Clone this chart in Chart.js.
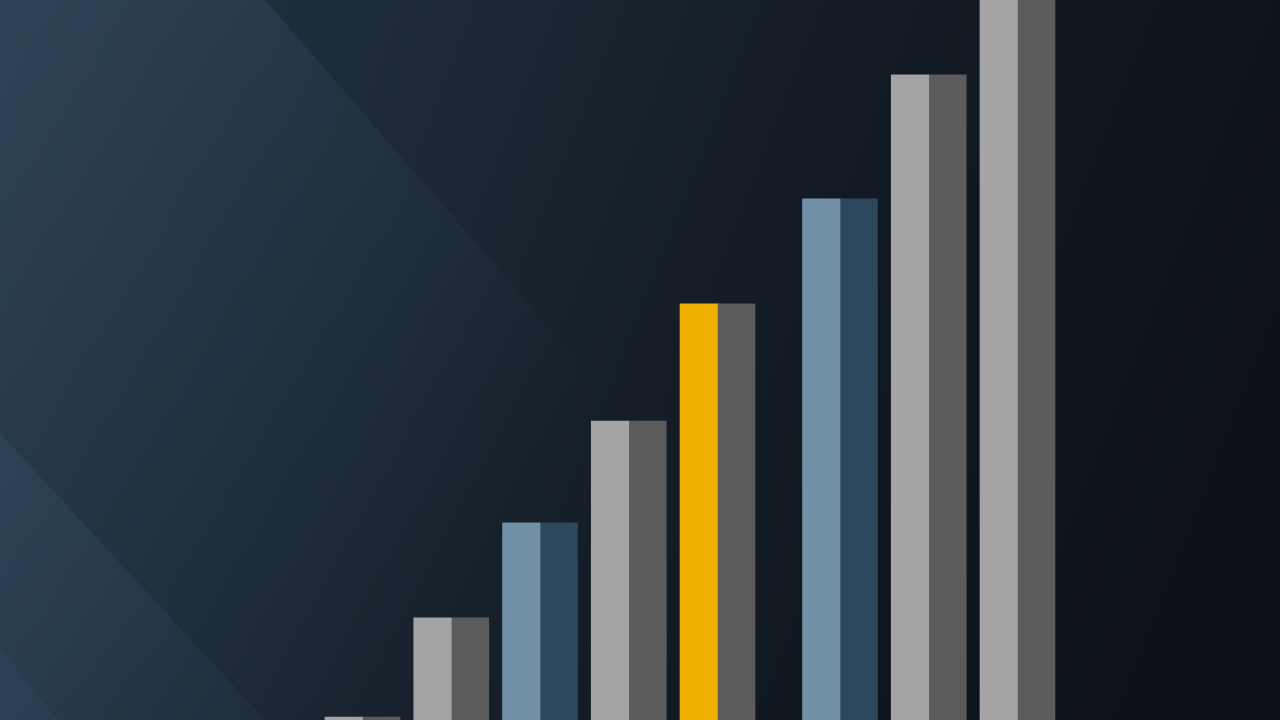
<!DOCTYPE html>
<html>
<head>
<meta charset="utf-8">
<title>Barras</title>
<script src="https://cdn.jsdelivr.net/npm/chart.js@4.4.1/dist/chart.umd.min.js"></script>
<style>
    html, body {
        margin: 0;
        padding: 0;
        background: #0b1016;
        overflow: hidden;
    }

    #contenido {
        position: relative;
        width: 1280px;
        height: 720px;
    }
</style>
</head>
<body>
<div id="contenido">
    <canvas id="diagramaBarras"></canvas>
</div>
<script>
// posiciones de cada barra (en huecos) y su altura (0 - 100)
var posiciones = [0, 1, 2, 3, 4, 5.38, 6.38, 7.38];
var alturas = [0.4, 14.2, 27.4, 41.5, 57.8, 72.4, 89.6, 105];

// cara iluminada y cara en sombra de cada barra
var coloresCara = ['#a4a4a4', '#a4a4a4', '#7190a6', '#a4a4a4', '#efb000', '#7190a6', '#a4a4a4', '#a4a4a4'];
var coloresSombra = ['#5b5b5b', '#5b5b5b', '#2d475d', '#5b5b5b', '#5b5b5b', '#2d475d', '#5b5b5b', '#5b5b5b'];

var ejeX = { min: -4.085, max: 10.338 };
var ejeY = { min: 0, max: 100 };

window.onload = function () {
    dibujarDiagrama();
}

/**
 * Fondo oscuro con los reflejos en diagonal, se pinta antes que las barras
 */
var pluginFondo = {
    id: 'fondo',
    beforeDraw: function (chart) {
        let ctx = chart.ctx;
        let w = chart.width;
        let h = chart.height;

        ctx.save();
        // degradado base, mas claro arriba a la izquierda
        let base = ctx.createLinearGradient(0, 0, w, h * 0.7);
        base.addColorStop(0, '#243445');
        base.addColorStop(0.35, '#1b2733');
        base.addColorStop(0.62, '#121a23');
        base.addColorStop(1, '#0b1016');
        ctx.fillStyle = base;
        ctx.fillRect(0, 0, w, h);

        // reflejo grande de arriba a la izquierda
        let reflejo = ctx.createLinearGradient(0, 0, w * 0.45, h * 0.62);
        reflejo.addColorStop(0, 'rgba(64, 88, 110, 0.42)');
        reflejo.addColorStop(0.6, 'rgba(54, 76, 96, 0.2)');
        reflejo.addColorStop(1, 'rgba(40, 60, 80, 0)');
        ctx.fillStyle = reflejo;
        ctx.beginPath();
        ctx.moveTo(0, 0);
        ctx.lineTo(w * 0.207, 0);
        ctx.lineTo(w * 0.5, h * 0.6);
        ctx.lineTo(w * 0.5, h);
        ctx.lineTo(0, h);
        ctx.closePath();
        ctx.fill();

        // reflejo de la esquina de abajo a la izquierda
        let esquina = ctx.createLinearGradient(0, h * 0.6, w * 0.2, h);
        esquina.addColorStop(0, 'rgba(60, 86, 110, 0.33)');
        esquina.addColorStop(1, 'rgba(60, 86, 110, 0.12)');
        ctx.fillStyle = esquina;
        ctx.beginPath();
        ctx.moveTo(0, h * 0.602);
        ctx.lineTo(w * 0.207, h);
        ctx.lineTo(0, h);
        ctx.closePath();
        ctx.fill();

        // un poco mas de luz en la punta de la esquina
        ctx.fillStyle = 'rgba(70, 100, 130, 0.12)';
        ctx.beginPath();
        ctx.moveTo(0, h * 0.9);
        ctx.lineTo(w * 0.045, h);
        ctx.lineTo(0, h);
        ctx.closePath();
        ctx.fill();
        ctx.restore();
    }
};

function dibujarDiagrama() {
    let canvas = document.getElementById('diagramaBarras');

    let cara = [];
    let sombra = [];
    for (let i = 0; i < posiciones.length; i++) {
        cara.push({ x: posiciones[i], y: alturas[i] });
        sombra.push({ x: posiciones[i], y: alturas[i] });
    }

    let diagrama = new Chart(canvas, {
        type: 'bar',
        data: {
            datasets: [{
                label: 'cara',
                data: cara,
                backgroundColor: coloresCara,
                borderWidth: 0,
                barThickness: 37.5
            }, {
                label: 'sombra',
                data: sombra,
                backgroundColor: coloresSombra,
                borderWidth: 0,
                barThickness: 37.5
            }]
        },
        options: {
            responsive: true,
            maintainAspectRatio: false,
            animation: false,
            layout: { padding: 0 },
            plugins: {
                legend: { display: false },
                tooltip: { enabled: false }
            },
            scales: {
                x: {
                    type: 'linear',
                    display: false,
                    offset: false,
                    min: ejeX.min,
                    max: ejeX.max
                },
                y: {
                    display: false,
                    min: ejeY.min,
                    max: ejeY.max
                }
            }
        },
        plugins: [pluginFondo]
    });
}
</script>
</body>
</html>
